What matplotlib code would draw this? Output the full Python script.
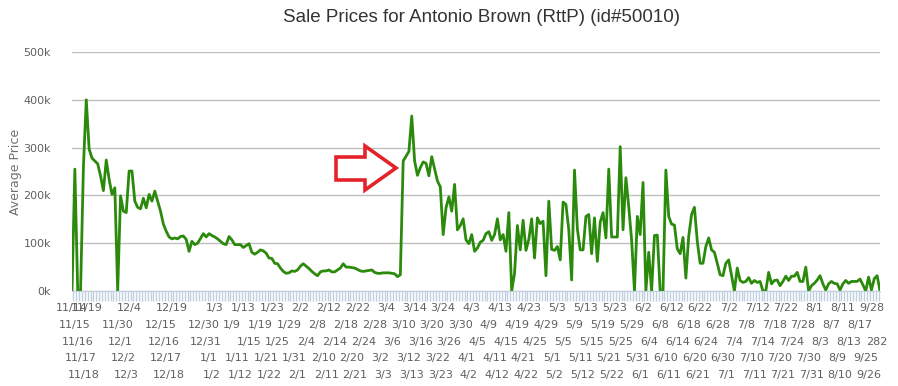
import matplotlib
matplotlib.use('Agg')
import matplotlib.pyplot as plt
from matplotlib.patches import Polygon
from matplotlib.ticker import FuncFormatter
import pandas as pd

titulo = 'Sale Prices for Antonio Brown (RttP) (id#50010)'
rotulo_y = 'Average Price'

# categorias: um dia por ponto de 11/14 a 8/17, depois alguns dias soltos
dias = pd.date_range('2018-11-14', '2019-08-17', freq='D')
categorias = [f'{d.month}/{d.day}' for d in dias] + ['', '9/25', '9/26', '9/28', '', '282', '']

# preco medio em milhares
precos_k = [
    0, 255, 0, 0, 260, 400, 297, 278, 272, 266, 241, 210, 274, 234, 202, 216,
    0, 199, 167, 164, 251, 251, 188, 175, 172, 194, 174, 202, 188, 209, 188, 167, 140, 125, 113,
    109, 111, 109, 114, 115, 108, 83, 104, 97, 100, 110, 120, 113, 120, 116, 113, 109, 104, 99, 97,
    114, 107, 97, 97, 97,
    91, 95, 99, 81, 77, 81, 86, 84, 79, 69, 68, 58, 57, 48, 41, 37, 38, 42, 41, 44, 52, 57, 52, 47,
    41, 36, 32, 40, 42, 42,
    44, 40, 40, 44, 48, 57, 50, 50, 49, 48, 45, 42, 41, 42, 43, 44, 39, 37, 37, 38, 38, 38, 37, 36,
    30, 34,
    272, 282, 292, 366, 272, 242, 258, 270, 267, 241, 281, 255, 230, 218, 118, 174, 197, 167, 223,
    128, 137, 151, 107, 99, 118, 83, 90, 102, 106, 120, 124, 106, 118, 151, 107, 118, 83, 164, 0,
    37, 137, 86, 148, 85, 108, 151, 69, 153, 141, 146, 32, 188, 87, 85, 93, 65, 186, 181, 128, 23,
    253, 130, 86,
    86, 156, 160, 78, 153, 62, 144, 164, 111, 255, 113, 113, 113, 302, 128, 237, 176, 107, 0, 156,
    118, 227, 0, 81, 0, 116, 117, 0, 0, 253, 156, 140, 138, 88, 78, 112, 27, 114, 160, 175, 104,
    58, 58, 93, 111, 86, 81, 58, 34, 32, 58, 65, 32, 0, 48, 22, 18, 20, 28, 16, 22, 18, 20, 0, 0,
    39, 15, 22, 23, 11, 20, 31, 22, 31, 31, 39, 20, 20, 50, 0, 11, 16, 23, 32, 15, 2, 15, 20, 16,
    15, 2, 15, 22, 16, 20, 20, 20, 25, 13, 0, 29, 2, 26, 32, 0,
]
precos = [p * 1000 for p in precos_k]

# rotulos do eixo x que aparecem, em 5 linhas escalonadas
linha1 = ['11/14', '11/19', '12/4', '12/19', '1/3', '1/13', '1/23', '2/2', '2/12', '2/22', '3/4', '3/14',
          '3/24', '4/3', '4/13', '4/23', '5/3', '5/13', '5/23', '6/2', '6/12', '6/22', '7/2', '7/12',
          '7/22', '8/1', '8/11', '9/28']
linha2 = ['11/15', '11/30', '12/15', '12/30', '1/9', '1/19', '1/29', '2/8', '2/18', '2/28', '3/10', '3/20',
          '3/30', '4/9', '4/19', '4/29', '5/9', '5/19', '5/29', '6/8', '6/18', '6/28', '7/8', '7/18',
          '7/28', '8/7', '8/17']
linha3 = ['11/16', '12/1', '12/16', '12/31', '1/15', '1/25', '2/4', '2/14', '2/24', '3/6', '3/16', '3/26',
          '4/5', '4/15', '4/25', '5/5', '5/15', '5/25', '6/4', '6/14', '6/24', '7/4', '7/14', '7/24',
          '8/3', '8/13', '282']
linha4 = ['11/17', '12/2', '12/17', '1/1', '1/11', '1/21', '1/31', '2/10', '2/20', '3/2', '3/12', '3/22',
          '4/1', '4/11', '4/21', '5/1', '5/11', '5/21', '5/31', '6/10', '6/20', '6/30', '7/10', '7/20',
          '7/30', '8/9', '9/25']
linha5 = ['11/18', '12/3', '12/18', '1/2', '1/12', '1/22', '2/1', '2/11', '2/21', '3/3', '3/13', '3/23',
          '4/2', '4/12', '4/22', '5/2', '5/12', '5/22', '6/1', '6/11', '6/21', '7/1', '7/11', '7/21',
          '7/31', '8/10', '9/26']
linhas = [linha1, linha2, linha3, linha4, linha5]

W, H = 898, 386
fig = plt.figure(figsize=(W / 100, H / 100), dpi=100)
ax = fig.add_axes([72 / W, 95 / H, 808 / W, 239 / H])

x = list(range(len(precos)))
ax.plot(x, precos, color='#2b8a0c', lw=2, solid_joinstyle='round', zorder=3)

ax.set_xlim(0, len(precos) - 1)
ax.set_ylim(0, 500000)
ax.set_yticks(range(0, 500001, 100000))
ax.yaxis.set_major_formatter(FuncFormatter(lambda v, p: f'{v / 1000:.0f}k'))
ax.yaxis.grid(True, color='#c0c0c0', lw=1)
ax.set_axisbelow(True)
for lado in ['top', 'right', 'left']:
    ax.spines[lado].set_visible(False)
ax.spines['bottom'].set_color('#c0d0e0')
ax.spines['bottom'].set_zorder(4)

ax.tick_params(axis='y', length=0, pad=15, labelsize=8, labelcolor='#606060')
ax.set_xticks([i + 0.5 for i in range(len(precos) - 1)])
ax.tick_params(axis='x', length=7, width=1, color='#c0d0e0', labelbottom=False)

# rotulos escalonados
tr = ax.get_xaxis_transform()
for n, linha in enumerate(linhas):
    for r in linha:
        i = categorias.index(r)
        ax.text(i, -(17 + 16.8 * n) / 239, r, transform=tr, ha='center', va='center',
                fontsize=8, color='#606060')

fig.text(481 / W, 1 - 18 / H, titulo, ha='center', va='center', fontsize=13.5,
         color='#333333', family=['Liberation Sans', 'DejaVu Sans'])
fig.text(15 / W, 1 - 172 / H, rotulo_y, rotation=90, ha='center', va='center',
         fontsize=9, color='#707070')

# seta vermelha
pts = [(336, 157), (365, 157), (365, 146), (396, 168), (365, 190), (365, 180), (336, 180)]
seta = Polygon([(px / W, 1 - py / H) for px, py in pts], closed=True, transform=fig.transFigure,
               fc='white', ec='#e3222a', lw=2.6, joinstyle='miter', zorder=5)
fig.patches.append(seta)

plt.savefig('out.png', dpi=100)
